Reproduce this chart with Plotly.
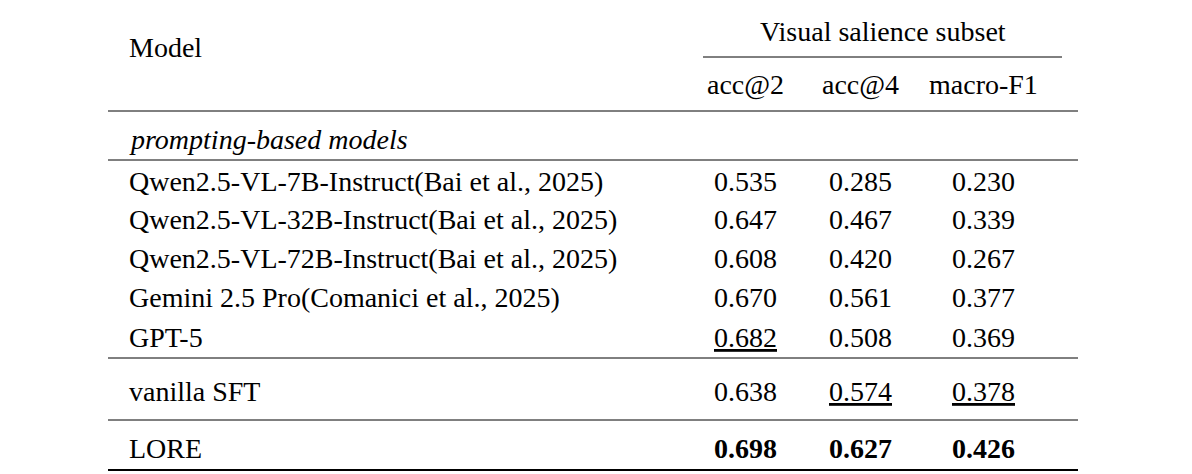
import plotly.graph_objects as go

models = ["Qwen2.5-VL-7B-Instruct(Bai et al., 2025)",
          "Qwen2.5-VL-32B-Instruct(Bai et al., 2025)",
          "Qwen2.5-VL-72B-Instruct(Bai et al., 2025)",
          "Gemini 2.5 Pro(Comanici et al., 2025)",
          "GPT-5", "vanilla SFT", "LORE"]
acc2 = [0.535, 0.647, 0.608, 0.670, 0.682, 0.638, 0.698]
acc4 = [0.285, 0.467, 0.420, 0.561, 0.508, 0.574, 0.627]
f1 = [0.230, 0.339, 0.267, 0.377, 0.369, 0.378, 0.426]
columns = ["acc@2", "acc@4", "macro-F1"]
group_label = "Visual salience subset"
section_label = "prompting-based models"

W, H = 1192, 474
OFF = 8  # page margin offset
FONT = dict(family="Liberation Serif, DejaVu Serif, serif", size=28, color="black")
row_y = [181, 219, 258, 297, 337, 391, 448]
col_x = [745, 860, 983]

fig = go.Figure()
ann = []
def txt(x, y, s, anchor="center"):
    ann.append(dict(x=x, y=y, text=s, showarrow=False, xanchor=anchor,
                    yanchor="middle", font=FONT, xref="x", yref="y"))

txt(127, 47, "Model", "left")
txt(883, 31, group_label)
for x, c in zip(col_x, columns):
    txt(x, 84, c)
txt(127, 139, "<i>" + section_label + "</i>", "left")

cols = [acc2, acc4, f1]
for ci, vals in enumerate(cols):
    best = max(vals)
    second = sorted(vals)[-2]
    for ri, v in enumerate(vals):
        s = f"{v:.3f}"
        if v == best:
            s = f"<b>{s}</b>"
        elif v == second:
            s = f"<u>{s}</u>"
        txt(col_x[ci], row_y[ri], s)
for ri, m in enumerate(models):
    txt(127, row_y[ri], m, "left")

shapes = []
def hline(x0, x1, y, w):
    shapes.append(dict(type="line", x0=x0, x1=x1, y0=y, y1=y, xref="x", yref="y",
                       line=dict(color="black", width=w)))
hline(108, 1078, 3, 2)
hline(703, 1062, 57, 1)
hline(108, 1078, 111, 1)
hline(108, 1078, 160, 1)
hline(108, 1078, 358, 1)
hline(108, 1078, 420, 1)
hline(108, 1078, 470, 2)

fig.update_layout(width=W, height=H, margin=dict(l=0, r=0, t=0, b=0),
                  paper_bgcolor="white", plot_bgcolor="white",
                  xaxis=dict(range=[OFF, W + OFF], visible=False, fixedrange=True),
                  yaxis=dict(range=[H + OFF, OFF], visible=False, fixedrange=True),
                  annotations=ann, shapes=shapes, showlegend=False)
fig.write_html("out.html")
